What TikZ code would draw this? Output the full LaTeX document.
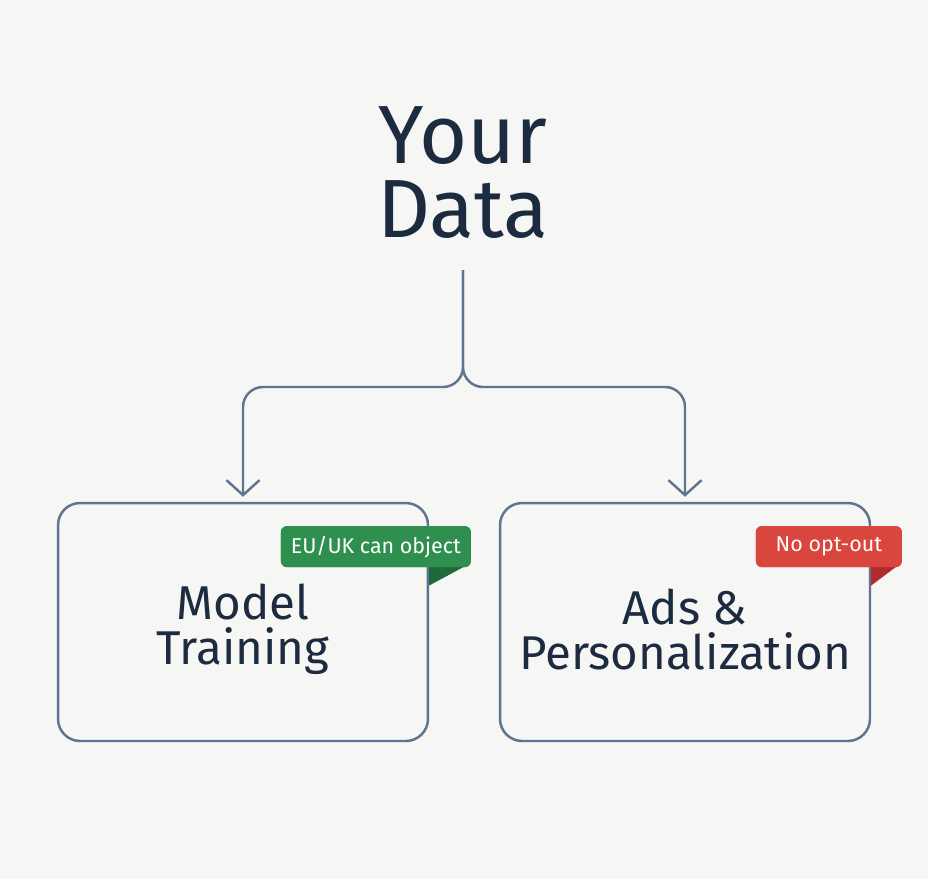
\documentclass[tikz,border=0pt]{standalone}
\usepackage{fontspec}
\setmainfont{Fira Sans}
\usetikzlibrary{arrows.meta,positioning,calc}
\definecolor{slateline}{HTML}{5E7490}
\definecolor{inkblue}{HTML}{1C2B3F}
\definecolor{paper}{HTML}{F6F6F4}
\definecolor{okgreen}{HTML}{2F8F4E}
\definecolor{okgreendark}{HTML}{1E6A3A}
\definecolor{warnred}{HTML}{D8463E}
\definecolor{warnreddark}{HTML}{B02B2B}
\newcommand{\boxstrut}{\rule{0pt}{1.02cm}}

\begin{document}
\begin{tikzpicture}[x=0.02cm, y=-0.02cm,
    title/.style={font=\fontsize{47}{42}\selectfont, text=inkblue, align=center, inner xsep=0pt, outer sep=0pt},
    box/.style={draw=slateline, line width=1.4pt, rounded corners=0.44cm, minimum width=7.4cm, minimum height=4.76cm, font=\fontsize{27}{25.6}\selectfont, text=inkblue, align=center},
    badge/.style={rounded corners=0.12cm, minimum height=0.82cm, inner xsep=0.2cm, font=\fontsize{12.2}{13}\selectfont, text=white},
    arr/.style={-{Straight Barb[length=0.3cm, width=0.66cm]}, slateline, line width=1.4pt, rounded corners=0.4cm, shorten >=0.1cm}
]
\fill[paper] (0,0) rectangle (928,879);

\node[title, anchor=south, inner ysep=0.64cm] (data) at (463,270) {Your\\Data};
\node[box] (train) at (243,622) {\boxstrut Model\\Training};
\node[box] (ads) at (685,622) {\boxstrut Ads \&\\Personalization};
\coordinate (split) at (463,387);

\draw[arr] (data.south) -- (split) -| (train.north);
\draw[arr] (data.south) -- (split) -| (ads.north);

% badges with folded corner
\node[badge, fill=okgreen, minimum width=3.8cm, anchor=north east] (object) at ($(train.north east)+(42,24)$) {EU/UK can object};
\fill[okgreendark] ($(object.south -| train.east)+(0,-3)$) -- ($(object.south east)+(-3,-3)$) -- ($(object.south -| train.east)+(0,18)$) -- cycle;
\node[badge, fill=okgreen, minimum width=3.8cm, anchor=north east] at (object.north east) {EU/UK can object};

\node[badge, fill=warnred, minimum width=2.92cm, anchor=north east] (noopt) at ($(ads.north east)+(31,24)$) {No opt-out};
\fill[warnreddark] ($(noopt.south -| ads.east)+(0,-3)$) -- ($(noopt.south east)+(-3,-3)$) -- ($(noopt.south -| ads.east)+(0,18)$) -- cycle;
\node[badge, fill=warnred, minimum width=2.92cm, anchor=north east] at (noopt.north east) {No opt-out};
\end{tikzpicture}
\end{document}
